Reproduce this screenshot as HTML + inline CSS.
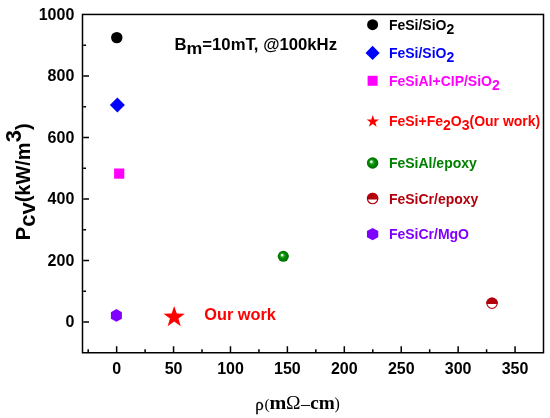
<!DOCTYPE html>
<html><head><meta charset="utf-8"><style>
html,body{margin:0;padding:0;background:#fff;width:550px;height:418px;overflow:hidden}
svg{display:block}
</style></head><body>
<svg width="550" height="418" viewBox="0 0 550 418" font-family="Liberation Sans, Arial, sans-serif">
<defs>
<radialGradient id="gs" cx="0.5" cy="0.5" r="0.5" fx="0.36" fy="0.36">
<stop offset="0" stop-color="#ffffff"/>
<stop offset="0.12" stop-color="#f0fff0"/>
<stop offset="0.32" stop-color="#30a830"/>
<stop offset="0.55" stop-color="#008a00"/>
<stop offset="1" stop-color="#006c00"/>
</radialGradient>
</defs>
<rect width="550" height="418" fill="#fff"/>
<rect x="82.5" y="14.45" width="461.0" height="338.3" fill="none" stroke="#000" stroke-width="1.5"/>
<path d="M116.65,352.0 V346.25 M173.56,352.0 V346.25 M230.48,352.0 V346.25 M287.39,352.0 V346.25 M344.31,352.0 V346.25 M401.23,352.0 V346.25 M458.14,352.0 V346.25 M515.06,352.0 V346.25 M88.19,352.0 V349.25 M145.11,352.0 V349.25 M202.02,352.0 V349.25 M258.94,352.0 V349.25 M315.85,352.0 V349.25 M372.77,352.0 V349.25 M429.68,352.0 V349.25 M486.60,352.0 V349.25 M83.25,322.00 H89.00 M83.25,260.49 H89.00 M83.25,198.98 H89.00 M83.25,137.47 H89.00 M83.25,75.96 H89.00 M83.25,291.25 H86.00 M83.25,229.74 H86.00 M83.25,168.22 H86.00 M83.25,106.72 H86.00 M83.25,45.20 H86.00" stroke="#000" stroke-width="1.5" fill="none"/>
<g font-size="16" font-weight="bold"><text x="74.3" y="327.30" text-anchor="end">0</text><text x="74.3" y="265.79" text-anchor="end">200</text><text x="74.3" y="204.28" text-anchor="end">400</text><text x="74.3" y="142.77" text-anchor="end">600</text><text x="74.3" y="81.26" text-anchor="end">800</text><text x="74.3" y="19.75" text-anchor="end">1000</text><text x="116.65" y="373.6" text-anchor="middle">0</text><text x="173.56" y="373.6" text-anchor="middle">50</text><text x="230.48" y="373.6" text-anchor="middle">100</text><text x="287.39" y="373.6" text-anchor="middle">150</text><text x="344.31" y="373.6" text-anchor="middle">200</text><text x="401.23" y="373.6" text-anchor="middle">250</text><text x="458.14" y="373.6" text-anchor="middle">300</text><text x="515.06" y="373.6" text-anchor="middle">350</text></g>
<circle cx="116.80" cy="37.60" r="5.70" fill="#000"/>
<polygon points="117.40,97.60 124.90,105.10 117.40,112.60 109.90,105.10" fill="#0000ff"/>
<rect x="114.10" y="168.50" width="10.20" height="10.20" fill="#ff00ff"/>
<polygon points="116.40,309.05 121.90,312.25 121.90,318.65 116.40,321.85 110.90,318.65 110.90,312.25" fill="#8000ff"/>
<polygon points="174.20,305.90 176.80,313.52 184.85,313.64 178.41,318.47 180.78,326.16 174.20,321.52 167.62,326.16 169.99,318.47 163.55,313.64 171.60,313.52" fill="#ff0000"/>
<circle cx="283.30" cy="256.30" r="5.55" fill="url(#gs)"/>
<circle cx="492.05" cy="303.30" r="5.17" fill="#fff" stroke="#b4000c" stroke-width="1.15"/><path d="M486.36,304.10 A5.75,5.75 0 1 1 497.74,304.10 Z" fill="#b4000c"/>
<circle cx="372.60" cy="24.70" r="5.50" fill="#000"/>
<polygon points="372.60,45.80 379.70,52.90 372.60,60.00 365.50,52.90" fill="#0000ff"/>
<rect x="367.60" y="75.80" width="10.00" height="10.00" fill="#ff00ff"/>
<polygon points="372.80,115.00 374.33,119.40 378.98,119.49 375.27,122.30 376.62,126.76 372.80,124.10 368.98,126.76 370.33,122.30 366.62,119.49 371.27,119.40" fill="#ff0000"/>
<circle cx="372.60" cy="163.00" r="5.70" fill="url(#gs)"/>
<circle cx="372.60" cy="198.60" r="5.17" fill="#fff" stroke="#b4000c" stroke-width="1.15"/><path d="M366.91,199.40 A5.75,5.75 0 1 1 378.29,199.40 Z" fill="#b4000c"/>
<polygon points="372.60,228.00 378.25,231.05 378.25,237.15 372.60,240.20 366.95,237.15 366.95,231.05" fill="#8000ff"/>
<text x="388.9" y="29.6" fill="#000" font-size="14" font-weight="bold">FeSi/SiO<tspan dy="4.4">2</tspan></text>
<text x="388.9" y="57.7" fill="#0000ff" font-size="14" font-weight="bold">FeSi/SiO<tspan dy="4.4">2</tspan></text>
<text x="388.9" y="85.5" fill="#ff00ff" font-size="14" font-weight="bold">FeSiAl+CIP/SiO<tspan dy="4.4">2</tspan></text>
<text x="388.9" y="125.8" fill="#ff0000" font-size="14" font-weight="bold">FeSi+Fe<tspan dy="4.4">2</tspan><tspan dy="-4.4">O</tspan><tspan dy="4.4">3</tspan><tspan dy="-4.4">(Our work)</tspan></text>
<text x="388.9" y="167.8" fill="#008000" font-size="14" font-weight="bold">FeSiAl/epoxy</text>
<text x="388.9" y="203.7" fill="#b4000c" font-size="14" font-weight="bold">FeSiCr/epoxy</text>
<text x="388.9" y="238.9" fill="#8000ff" font-size="14" font-weight="bold">FeSiCr/MgO</text>
<text transform="translate(174.40,49.8) scale(1.0450,1)" font-size="16" font-weight="bold">B<tspan dy="4.1" font-size="17">m</tspan><tspan dy="-4.1">=10mT, @100kHz</tspan></text>
<text transform="translate(204.30,320.3) scale(1.0200,1)" font-size="16" font-weight="bold" fill="#ff0000">Our work</text>
<text transform="translate(30.2,240.2) rotate(-90)" font-size="20" font-weight="bold">P<tspan dy="4.5" font-size="22">cv</tspan><tspan dy="-4.5">(kW/m</tspan><tspan dy="-9.7" font-size="22">3</tspan><tspan dy="9.7">)</tspan></text>
<text transform="translate(255.30,409.50) scale(1.000,1)" font-family="Liberation Serif, serif" font-size="17" font-weight="normal" stroke="#000" stroke-width="0.3">ρ</text>
<text transform="translate(264.40,409.00) scale(1.000,1)" font-family="Liberation Serif, serif" font-size="15.5" font-weight="normal" >(</text>
<text transform="translate(269.60,409.30) scale(1.120,1)" font-family="Liberation Serif, serif" font-size="18" font-weight="bold" >m</text>
<text transform="translate(286.10,409.30) scale(1.000,1)" font-family="Liberation Serif, serif" font-size="19.5" font-weight="normal" >Ω</text>
<text transform="translate(300.90,409.90) scale(1.000,1)" font-family="Liberation Serif, serif" font-size="18" font-weight="normal" >–</text>
<text transform="translate(310.20,409.30) scale(1.070,1)" font-family="Liberation Serif, serif" font-size="18" font-weight="bold" >cm</text>
<text transform="translate(334.60,409.00) scale(1.000,1)" font-family="Liberation Serif, serif" font-size="16" font-weight="normal" >)</text>
</svg>
</body></html>
